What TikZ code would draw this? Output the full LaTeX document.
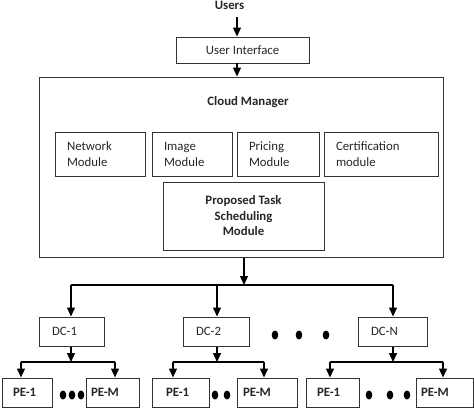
\documentclass[tikz,border=0pt]{standalone}
\usepackage{fontspec}
\setmainfont{Carlito}
\usetikzlibrary{arrows.meta}
\begin{document}
\begin{tikzpicture}[x=1pt,y=-1pt,
  every node/.style={font=\fontsize{12.8}{16}\selectfont, text=black!85},
  box/.style={draw=black!80, line width=1pt, rectangle, inner ysep=0pt, align=left},
  arr/.style={line width=1.4pt, -{Triangle[length=9pt,width=8pt]}},
  ln/.style={line width=1.4pt},
  dot/.style={fill=black}
]
\useasboundingbox (0,0) rectangle (474,408);

% top
\node[font=\fontsize{12.8}{16}\selectfont\bfseries, anchor=base] (users) at (229.5,9.5) {Users};
\node[box, align=center, minimum width=133pt, minimum height=26pt] (ui) at (242.5,50) {User Interface};
\node[box, minimum width=404pt, minimum height=180pt] (cm) at (241,167) {};
\node[font=\fontsize{12.8}{16}\selectfont\bfseries] (cmt) at (248,102) {Cloud Manager};

% modules
\node[box, text width=66pt, inner xsep=12pt, minimum height=44pt] (net) at (100,154) {Network\\Module};
\node[box, text width=56pt, inner xsep=12pt, minimum height=44pt] (img) at (192,154) {Image\\Module};
\node[box, text width=58pt, inner xsep=12pt, minimum height=44pt] (pri) at (278,154) {Pricing\\Module};
\node[box, text width=90pt, inner xsep=12pt, minimum height=44pt] (cer) at (381,154) {Certification\\module};
\node[box, align=center, font=\fontsize{12.8}{15.5}\selectfont\bfseries, minimum width=161pt, minimum height=68pt] (pts) at (243.5,216) {Proposed Task\\Scheduling\\Module};

\coordinate (u1) at (237,17);
\draw[arr] (u1) -- (u1 |- ui.north);
\coordinate (u2) at (237,63);
\draw[arr] (u2) -- (u2 |- cm.north);

% data centres
\node[box, text width=39pt, inner xsep=13pt, minimum height=29pt] (dc1) at (71.5,331.5) {DC-1};
\node[box, text width=40pt, inner xsep=13pt, minimum height=29pt] (dc2) at (216,331.5) {DC-2};
\node[box, text width=43pt, inner xsep=13pt, minimum height=29pt] (dcn) at (392.5,331.5) {DC-N};

\coordinate (b0) at (244,285);
\coordinate (b1) at (71,285);
\coordinate (b2) at (217,285);
\coordinate (b3) at (393,285);
\draw[arr] (cm.south -| b0) -- (b0);
\draw[ln] (b1) -- (b3);
\draw[arr] (b1) -- (b1 |- dc1.north);
\draw[arr] (b2) -- (b2 |- dc2.north);
\draw[arr] (b3) -- (b3 |- dcn.north);

\fill[dot] (275,335) ellipse (3.3pt and 4.5pt);
\fill[dot] (299,335) ellipse (3.3pt and 4.5pt);
\fill[dot] (326,335) ellipse (3.3pt and 4.5pt);

% processing elements
\tikzset{pe/.style={box, font=\fontsize{12.8}{16}\selectfont\bfseries, minimum height=29pt}}
\node[pe, text width=28pt, inner xsep=11pt] (p11) at (27,392.5) {PE-1};
\node[pe, text width=43pt, inner xsep=5pt] (p1m) at (112.5,392.5) {PE-M};
\node[pe, text width=29pt, inner xsep=14pt] (p21) at (180.5,392.5) {PE-1};
\node[pe, text width=48pt, inner xsep=6pt] (p2m) at (267,392.5) {PE-M};
\node[pe, text width=31pt, inner xsep=11pt] (pn1) at (332.5,392.5) {PE-1};
\node[pe, text width=47pt, inner xsep=5pt] (pnm) at (444.5,392.5) {PE-M};

\coordinate (s1a) at (21,362);  \coordinate (s1b) at (115,362);
\coordinate (s2a) at (173,362); \coordinate (s2b) at (264,362);
\coordinate (sna) at (330,362); \coordinate (snb) at (443,362);

\draw[arr] (dc1.south -| b1) -- (b1 |- s1a);
\draw[arr] (dc2.south -| b2) -- (b2 |- s2a);
\draw[arr] (dcn.south -| b3) -- (b3 |- sna);
\draw[ln] (s1a) -- (s1b);
\draw[ln] (s2a) -- (s2b);
\draw[ln] (sna) -- (snb);
\draw[arr] (s1a) -- (s1a |- p11.north);
\draw[arr] (s1b) -- (s1b |- p1m.north);
\draw[arr] (s2a) -- (s2a |- p21.north);
\draw[arr] (s2b) -- (s2b |- p2m.north);
\draw[arr] (sna) -- (sna |- pn1.north);
\draw[arr] (snb) -- (snb |- pnm.north);

\fill[dot] (63,395) ellipse (3.3pt and 4.5pt);
\fill[dot] (72,395) ellipse (3.3pt and 4.5pt);
\fill[dot] (81,395) ellipse (3.3pt and 4.5pt);
\fill[dot] (215,395) ellipse (3.3pt and 4.5pt);
\fill[dot] (227,395) ellipse (3.3pt and 4.5pt);
\fill[dot] (369,395) ellipse (3.3pt and 4.5pt);
\fill[dot] (390,395) ellipse (3.3pt and 4.5pt);
\fill[dot] (407,395) ellipse (3.3pt and 4.5pt);
\end{tikzpicture}
\end{document}
